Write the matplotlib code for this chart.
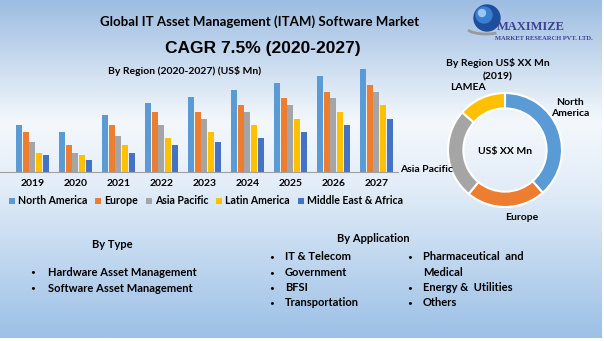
import numpy as np
import matplotlib
matplotlib.use("Agg")
import matplotlib.pyplot as plt
from matplotlib.colors import LinearSegmentedColormap
from matplotlib.patches import Circle, Arc

years = ["2019", "2020", "2021", "2022", "2023", "2024", "2025", "2026", "2027"]
regions = ["North America", "Europe", "Asia Pacific", "Latin America", "Middle East & Africa"]
north_america = [140, 121, 171, 208, 227, 247, 269, 289, 309]
europe = [121, 81, 140, 182, 182, 202, 222, 242, 262]
asia_pacific = [89, 58, 109, 140, 160, 182, 202, 222, 242]
latin_america = [58, 50, 81, 101, 121, 140, 160, 182, 202]
middle_east_africa = [50, 35, 58, 81, 89, 101, 121, 140, 160]
bar_colors = ["#5b9bd5", "#ed7d31", "#a5a5a5", "#ffc000", "#4472c4"]

donut_labels = ["North America", "Europe", "Asia Pacific", "LAMEA"]
donut_share = [38.5, 22.5, 25.5, 13.5]
donut_colors = ["#5b9bd5", "#ed7d31", "#a5a5a5", "#ffc000"]

by_type = ["Hardware Asset Management", "Software Asset Management"]
by_app_col1 = ["IT & Telecom", "Government", "BFSI", "Transportation"]
by_app_col2 = ["Pharmaceutical  and", "Medical", "Energy &  Utilities", "Others"]

W, H = 604, 341
plt.rcParams['font.family'] = ['Lato', 'DejaVu Sans']


def px(x, y):
    return x / W, 1 - y / H


def main():
    fig = plt.figure(figsize=(W / 100, H / 100), dpi=100)

    # background gradient
    bg = fig.add_axes([0, 3 / H, 1 - 2 / W, 1 - 3 / H])
    cmap = LinearSegmentedColormap.from_list(
        "bg", [(0, "#9dbde2"), (0.36, "#f4f8fc"), (0.55, "#e3edf8"), (1, "#9cc0e6")])
    grad = np.linspace(0, 1, 256).reshape(-1, 1)
    bg.imshow(grad, aspect="auto", cmap=cmap, extent=[0, 1, 0, 1])
    bg.axis("off")

    # bar chart
    ax_h = 113
    ax = fig.add_axes([0, 169 / H, 398 / W, ax_h / H])
    series = [north_america, europe, asia_pacific, latin_america, middle_east_africa]
    x = np.arange(len(years))
    for i, vals in enumerate(series):
        ax.bar(x + (i - 2) * 0.155, vals, width=0.14, color=bar_colors[i], label=regions[i])
    ax.set_xlim(-0.75, 8.5)
    ax.set_ylim(0, 340)
    ax.set_xticks(x)
    ax.set_xticklabels(years, fontsize=7.5, fontweight="bold")
    ax.tick_params(axis="x", length=0, pad=5)
    ax.set_yticks([])
    for s in ["top", "right", "left"]:
        ax.spines[s].set_visible(False)
    ax.spines["bottom"].set_color("#a0a0a0")
    ax.patch.set_alpha(0)
    ax.legend(loc="center", bbox_to_anchor=(206 / 398, -(201 - 172) / ax_h),
              ncol=5, frameon=False, handlelength=0.55, handleheight=0.55,
              handletextpad=0.3, columnspacing=0.75, borderaxespad=0, borderpad=0,
              prop={"weight": "bold", "size": 7.6})

    # titles
    fig.text(*px(260, 22), "Global IT Asset Management (ITAM) Software Market",
             ha="center", va="center", fontsize=9.5, fontweight="bold")
    fig.text(*px(263, 48), "CAGR 7.5% (2020-2027)", ha="center", va="center",
             fontsize=12.5, fontweight="bold", family="Liberation Sans")
    fig.text(*px(185, 71), "By Region (2020-2027) (US$ Mn)", ha="center", va="center",
             fontsize=7.5, fontweight="bold")

    # donut
    r = 57
    pax = fig.add_axes([(505 - r) / W, (H - 150 - r) / H, 2 * r / W, 2 * r / H])
    pax.pie(donut_share, colors=donut_colors, startangle=90, counterclock=False,
            radius=1, wedgeprops=dict(width=0.27, edgecolor="white", linewidth=1.5))
    pax.set_xlim(-1, 1)
    pax.set_ylim(-1, 1)
    pax.axis("off")
    fig.text(*px(498, 63), "By Region US$ XX Mn", ha="center", va="center",
             fontsize=7.5, fontweight="bold")
    fig.text(*px(498, 77), "(2019)", ha="center", va="center", fontsize=7.5, fontweight="bold")
    fig.text(*px(505, 151), "US$ XX Mn", ha="center", va="center", fontsize=7.5, fontweight="bold")
    fig.text(*px(468, 87), "LAMEA", ha="center", va="center", fontsize=7.5, fontweight="bold")
    fig.text(*px(570, 108), "North\nAmerica", ha="center", va="center", fontsize=7.5,
             fontweight="bold", linespacing=1.15)
    fig.text(*px(427, 170), "Asia Pacific", ha="center", va="center", fontsize=7.5,
             fontweight="bold")
    fig.text(*px(522, 217), "Europe", ha="center", va="center", fontsize=7.5, fontweight="bold")

    # logo
    lax = fig.add_axes([460 / W, (H - 40) / H, 45 / W, 40 / H])
    lax.set_xlim(0, 45)
    lax.set_ylim(0, 40)
    lax.set_aspect("equal")
    lax.add_patch(Arc((26, 13), 40, 14, theta1=190, theta2=330, color="#9a9a9a", lw=2))
    lax.add_patch(Circle((27, 22), 13, color="#1d4f9c"))
    lax.add_patch(Circle((24, 25), 8, color="#3b7fd0"))
    lax.add_patch(Circle((22, 27), 3.5, color="#9cc8f0"))
    lax.axis("off")
    fig.text(*px(497, 27), "MAXIMIZE", ha="left", va="center", fontsize=9,
             fontweight="bold", family="Liberation Serif", color="#3d4290")
    fig.text(*px(495, 38), "MARKET RESEARCH PVT. LTD.", ha="left", va="center", fontsize=4.7,
             fontweight="bold", family="Liberation Serif", color="#3d4290")

    # segment lists
    fig.text(*px(112, 245), "By Type", ha="center", va="center", fontsize=8, fontweight="bold")
    for i, t in enumerate(by_type):
        fig.text(*px(33, 272 + 16 * i), "•", ha="center", va="center", fontsize=6)
        fig.text(*px(48, 272 + 16 * i), t, ha="left", va="center", fontsize=8, fontweight="bold")
    fig.text(*px(373, 238), "By Application", ha="center", va="center", fontsize=8,
             fontweight="bold")
    for i, t in enumerate(by_app_col1):
        fig.text(*px(272, 257 + 15.3 * i), "•", ha="center", va="center", fontsize=6)
        fig.text(*px(285, 257 + 15.3 * i), t, ha="left", va="center", fontsize=8,
                 fontweight="bold")
    for i, t in enumerate(by_app_col2):
        if t != "Medical":
            fig.text(*px(410, 257 + 15.3 * i), "•", ha="center", va="center", fontsize=6)
        fig.text(*px(423, 257 + 15.3 * i), t, ha="left", va="center", fontsize=8,
                 fontweight="bold")

    fig.savefig("out.png", dpi=100)


if __name__ == '__main__':
    main()
